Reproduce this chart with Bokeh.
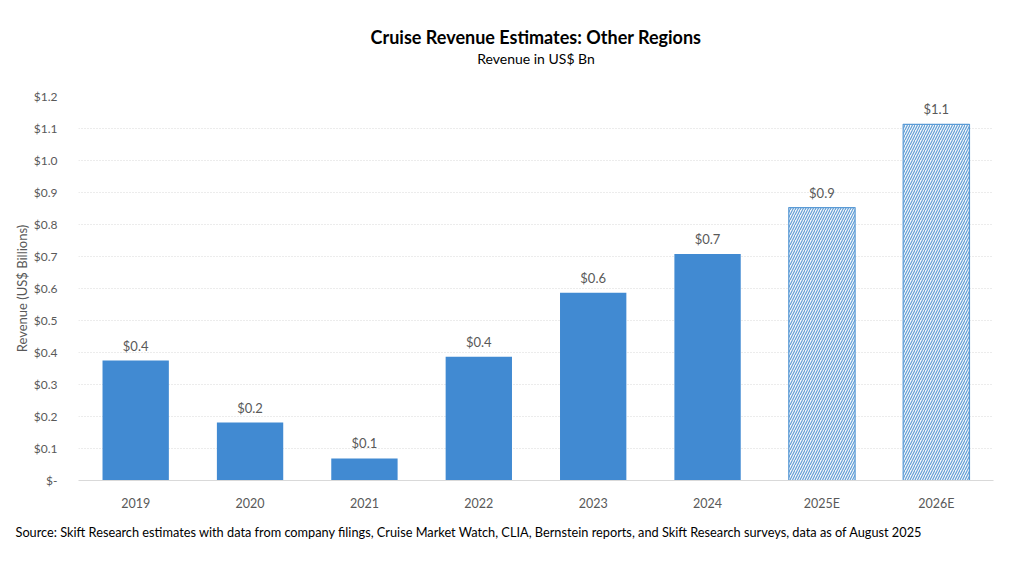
from bokeh.plotting import figure
from bokeh.models import ColumnDataSource, Range1d, Title, LabelSet, CustomJSTickFormatter
from bokeh.core.properties import value
from bokeh.embed import file_html
from bokeh.resources import INLINE

categories = ["2019", "2020", "2021", "2022", "2023", "2024", "2025E", "2026E"]
revenue = [0.375, 0.181, 0.069, 0.387, 0.587, 0.708, 0.853, 1.113]
is_estimate = [False, False, False, False, False, False, True, True]
value_labels = ["$0.4", "$0.2", "$0.1", "$0.4", "$0.6", "$0.7", "$0.9", "$1.1"]

FONT = "Lato"
GRAY = "#595959"

actual = ColumnDataSource(dict(
    x=[c for c, e in zip(categories, is_estimate) if not e],
    y=[v for v, e in zip(revenue, is_estimate) if not e],
))
estimate = ColumnDataSource(dict(
    x=[c for c, e in zip(categories, is_estimate) if e],
    y=[v for v, e in zip(revenue, is_estimate) if e],
))
labels_src = ColumnDataSource(dict(x=categories, y=revenue, t=value_labels))

p = figure(x_range=categories, y_range=Range1d(0, 1.2), width=1024, height=572,
           output_backend="svg", toolbar_location=None,
           min_border_left=78, min_border_right=31, min_border_top=96, min_border_bottom=92)
p.outline_line_color = None

p.vbar(x="x", top="y", width=0.58, source=actual, fill_color="#418AD2", line_color=None)
p.vbar(x="x", top="y", width=0.58, source=estimate, fill_color="#F4F6F9",
       line_color="#5B9BD5", line_width=1.2,
       hatch_pattern="/", hatch_color="#5B9BD5", hatch_scale=5, hatch_weight=1.1)

p.add_layout(LabelSet(x="x", y="y", text="t", source=labels_src, text_align="center",
                      text_baseline="bottom", y_offset=7, text_font=value(FONT),
                      text_font_size="13px", text_color=GRAY))

# titles (panels added later stack outward from the frame; p.title is outermost)
p.title.text = "Cruise Revenue Estimates: Other Regions"
p.title.align = "center"
p.title.text_font = FONT
p.title.text_font_size = "18px"
p.title.text_font_style = "bold"
p.title.text_color = "#000000"
p.title.standoff = 0
p.add_layout(Title(text=" ", align="center", standoff=11,
                   text_font=FONT, text_font_size="14px"), "above")
p.add_layout(Title(text="Revenue in US$ Bn", align="center", standoff=0,
                   text_font=FONT, text_font_size="14px", text_font_style="normal",
                   text_color="#000000"), "above")
p.add_layout(Title(text="Source: Skift Research estimates with data from company filings, Cruise Market Watch, CLIA, Bernstein reports, and Skift Research surveys, data as of August 2025",
                   align="left", offset=-63, text_font=FONT, text_font_size="12.75px",
                   text_font_style="normal", text_color="#000000", standoff=16), "below")

# axes
p.yaxis.ticker = [i / 10 for i in range(13)]
p.yaxis.formatter = CustomJSTickFormatter(code="return tick < 1e-9 ? '$-' : '$' + tick.toFixed(1);")
p.yaxis.axis_label = "Revenue (US$ Billions)"
p.yaxis.axis_label_text_font = FONT
p.yaxis.axis_label_text_font_size = "13px"
p.yaxis.axis_label_text_font_style = "normal"
p.yaxis.axis_label_text_color = GRAY
p.yaxis.axis_label_standoff = 1
p.yaxis.axis_line_color = None
p.yaxis.major_tick_line_color = None
p.yaxis.minor_tick_line_color = None
p.yaxis.major_label_text_font = FONT
p.yaxis.major_label_text_font_size = "12px"
p.yaxis.major_label_text_color = GRAY
p.yaxis.major_label_standoff = 15

p.xaxis.axis_line_color = "#D9D9D9"
p.xaxis.major_tick_line_color = None
p.xaxis.major_label_text_font = FONT
p.xaxis.major_label_text_font_size = "12.5px"
p.xaxis.major_label_text_color = GRAY
p.xaxis.major_label_standoff = 9

p.xgrid.grid_line_color = None
p.ygrid.grid_line_color = "#D9D9D9"
p.ygrid.grid_line_dash = "1 2"

open("out.html", "w").write(file_html(p, INLINE))
